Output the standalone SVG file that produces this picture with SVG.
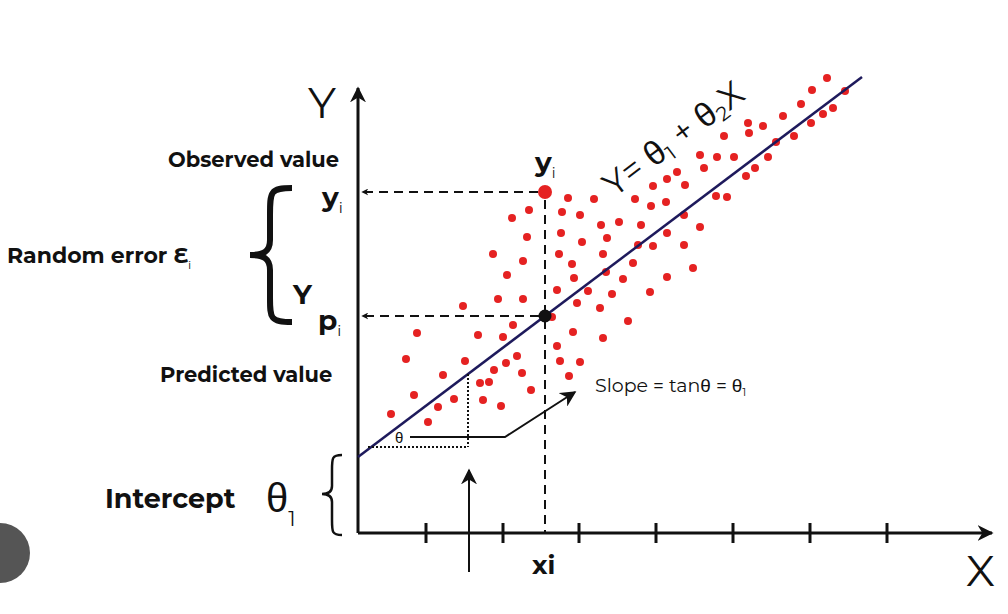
<svg xmlns="http://www.w3.org/2000/svg" width="1008" height="614" viewBox="0 0 1008 614">
<style>
.t{font-family:"Montserrat","Liberation Sans",Arial,sans-serif;fill:#111}
.b{font-weight:bold}
.d{fill:#e52222}
.ax{stroke:#111;stroke-width:3;fill:none}
.dash{stroke:#111;stroke-width:2;stroke-dasharray:9,6;fill:none}
.dot{stroke:#111;stroke-width:2;stroke-dasharray:2,2;fill:none}
tspan{fill:#111}
</style>
<defs>
<marker id="ah" viewBox="0 0 10 10" refX="9" refY="5" markerWidth="7" markerHeight="7" orient="auto-start-reverse" markerUnits="userSpaceOnUse"><path d="M0,0 L10,5 L0,10 L3,5 Z" fill="#111"/></marker>
<marker id="ahb" viewBox="0 0 10 10" refX="9" refY="5" markerWidth="16" markerHeight="16" orient="auto" markerUnits="userSpaceOnUse"><path d="M0,0 L10,5 L0,10 L3,5 Z" fill="#111"/></marker>
</defs>
<rect width="1008" height="614" fill="#fff"/>
<g id="axes">
<line class="ax" x1="358" y1="533" x2="358" y2="88" marker-end="url(#ahb)"/>
<line class="ax" x1="358" y1="533" x2="992" y2="533" marker-end="url(#ahb)"/>
<g stroke="#111" stroke-width="3"><line x1="426" y1="523" x2="426" y2="543"/><line x1="503" y1="523" x2="503" y2="543"/><line x1="579" y1="523" x2="579" y2="543"/><line x1="656" y1="523" x2="656" y2="543"/><line x1="733" y1="523" x2="733" y2="543"/><line x1="810" y1="523" x2="810" y2="543"/><line x1="887" y1="523" x2="887" y2="543"/></g>
<text class="t" x="308" y="118" font-size="44">Y</text>
<text class="t" x="966" y="586" font-size="44">X</text>
<text class="t b" x="532" y="574" font-size="26">xi</text>
</g>
<g id="points">
<circle class="d" cx="568" cy="198" r="4"/><circle class="d" cx="594" cy="199" r="4"/><circle class="d" cx="529" cy="210" r="4"/><circle class="d" cx="512" cy="218" r="4"/><circle class="d" cx="562" cy="212" r="4"/><circle class="d" cx="580" cy="215" r="4"/><circle class="d" cx="527" cy="237" r="4"/><circle class="d" cx="561" cy="233" r="4"/><circle class="d" cx="582" cy="242" r="4"/><circle class="d" cx="601" cy="225" r="4"/><circle class="d" cx="619" cy="222" r="4"/><circle class="d" cx="635" cy="199" r="4"/><circle class="d" cx="653" cy="186" r="4"/><circle class="d" cx="667" cy="179" r="4"/><circle class="d" cx="677" cy="172" r="4"/><circle class="d" cx="685" cy="185" r="4"/><circle class="d" cx="651" cy="206" r="4"/><circle class="d" cx="666" cy="202" r="4"/><circle class="d" cx="684" cy="215" r="4"/><circle class="d" cx="700" cy="227" r="4"/><circle class="d" cx="641" cy="225" r="4"/><circle class="d" cx="607" cy="238" r="4"/><circle class="d" cx="638" cy="245" r="4"/><circle class="d" cx="653" cy="246" r="4"/><circle class="d" cx="667" cy="233" r="4"/><circle class="d" cx="684" cy="245" r="4"/><circle class="d" cx="693" cy="268" r="4"/><circle class="d" cx="667" cy="277" r="4"/><circle class="d" cx="650" cy="292" r="4"/><circle class="d" cx="633" cy="263" r="4"/><circle class="d" cx="623" cy="279" r="4"/><circle class="d" cx="606" cy="272" r="4"/><circle class="d" cx="603" cy="254" r="4"/><circle class="d" cx="572" cy="264" r="4"/><circle class="d" cx="559" cy="254" r="4"/><circle class="d" cx="574" cy="278" r="4"/><circle class="d" cx="557" cy="290" r="4"/><circle class="d" cx="588" cy="291" r="4"/><circle class="d" cx="612" cy="294" r="4"/><circle class="d" cx="577" cy="303" r="4"/><circle class="d" cx="600" cy="308" r="4"/><circle class="d" cx="628" cy="321" r="4"/><circle class="d" cx="603" cy="338" r="4"/><circle class="d" cx="573" cy="332" r="4"/><circle class="d" cx="552" cy="317" r="4"/><circle class="d" cx="557" cy="346" r="4"/><circle class="d" cx="560" cy="361" r="4"/><circle class="d" cx="580" cy="362" r="4"/><circle class="d" cx="569" cy="376" r="4"/><circle class="d" cx="531" cy="390" r="4"/><circle class="d" cx="522" cy="373" r="4"/><circle class="d" cx="517" cy="356" r="4"/><circle class="d" cx="506" cy="363" r="4"/><circle class="d" cx="494" cy="370" r="4"/><circle class="d" cx="489" cy="382" r="4"/><circle class="d" cx="480" cy="383" r="4"/><circle class="d" cx="483" cy="400" r="4"/><circle class="d" cx="501" cy="406" r="4"/><circle class="d" cx="513" cy="325" r="4"/><circle class="d" cx="503" cy="337" r="4"/><circle class="d" cx="523" cy="299" r="4"/><circle class="d" cx="498" cy="299" r="4"/><circle class="d" cx="463" cy="306" r="4"/><circle class="d" cx="478" cy="335" r="4"/><circle class="d" cx="493" cy="254" r="4"/><circle class="d" cx="507" cy="275" r="4"/><circle class="d" cx="523" cy="261" r="4"/><circle class="d" cx="417" cy="333" r="4"/><circle class="d" cx="406" cy="359" r="4"/><circle class="d" cx="465" cy="361" r="4"/><circle class="d" cx="443" cy="375" r="4"/><circle class="d" cx="414" cy="395" r="4"/><circle class="d" cx="454" cy="399" r="4"/><circle class="d" cx="438" cy="407" r="4"/><circle class="d" cx="391" cy="414" r="4"/><circle class="d" cx="428" cy="422" r="4"/><circle class="d" cx="700" cy="155" r="4"/><circle class="d" cx="704" cy="168" r="4"/><circle class="d" cx="717" cy="157" r="4"/><circle class="d" cx="724" cy="136" r="4"/><circle class="d" cx="734" cy="157" r="4"/><circle class="d" cx="748" cy="123" r="4"/><circle class="d" cx="749" cy="133" r="4"/><circle class="d" cx="763" cy="126" r="4"/><circle class="d" cx="783" cy="116" r="4"/><circle class="d" cx="776" cy="142" r="4"/><circle class="d" cx="794" cy="136" r="4"/><circle class="d" cx="801" cy="104" r="4"/><circle class="d" cx="812" cy="90" r="4"/><circle class="d" cx="827" cy="78" r="4"/><circle class="d" cx="845" cy="91" r="4"/><circle class="d" cx="823" cy="114" r="4"/><circle class="d" cx="833" cy="108" r="4"/><circle class="d" cx="811" cy="123" r="4"/><circle class="d" cx="768" cy="157" r="4"/><circle class="d" cx="755" cy="168" r="4"/><circle class="d" cx="746" cy="176" r="4"/><circle class="d" cx="716" cy="196" r="4"/><circle class="d" cx="727" cy="197" r="4"/>
</g>
<g id="regression">
<line x1="358" y1="457" x2="862" y2="77" stroke="#1e1a5c" stroke-width="2.5"/>
<text class="t" font-size="34" transform="translate(614,198) rotate(-37)">Y= θ<tspan font-size="20" dy="5">1</tspan><tspan dy="-5"> + θ</tspan><tspan font-size="20" dy="5">2</tspan><tspan dy="-5">X</tspan></text>
</g>
<g id="observed">
<circle cx="545" cy="192" r="7" fill="#e52222"/>
<text class="t b" x="535" y="172" font-size="28">y<tspan font-size="14" dy="6" font-weight="normal">i</tspan></text>
<circle cx="545" cy="316" r="6.5" fill="#111"/>
</g>
<g id="connectors">
<line class="dash" x1="538" y1="192" x2="362" y2="192" marker-end="url(#ah)"/>
<line class="dash" x1="539" y1="316" x2="362" y2="316" marker-end="url(#ah)"/>
<line class="dash" x1="545" y1="200" x2="545" y2="533"/>
<line class="dot" x1="468" y1="374" x2="468" y2="447"/>
<line class="dot" x1="368" y1="447" x2="468" y2="447"/>
<path d="M410,437 L505,437 L575,392" stroke="#111" stroke-width="2" fill="none" marker-end="url(#ahb)"/>
<line x1="469" y1="572" x2="469" y2="470" stroke="#111" stroke-width="2" marker-end="url(#ahb)"/>
</g>
<g id="labels">
<text class="t" x="395" y="443" font-size="15">θ</text>
<text class="t" x="595" y="392" font-size="19">Slope = tanθ = θ<tspan font-size="11" dy="4">1</tspan></text>
<text class="t b" x="168" y="167" font-size="21">Observed value</text>
<text class="t b" x="322" y="207" font-size="28">y<tspan font-size="15" dy="6" font-weight="normal">i</tspan></text>
<text class="t b" x="7" y="263" font-size="22">Random error Ɛ<tspan font-size="12" dy="6" font-weight="normal">i</tspan></text>
<path d="M292,188 C270,188 270,192 270,215 L270,240 C270,252 263,255 250,255 C263,255 270,258 270,270 L270,298 C270,318 270,322 292,322" stroke="#111" stroke-width="6" fill="none"/>
<text class="t b" x="293" y="304" font-size="28">Y</text>
<text class="t b" x="318" y="330" font-size="28">p<tspan font-size="15" dy="6" font-weight="normal">i</tspan></text>
<text class="t b" x="160" y="382" font-size="21">Predicted value</text>
<text class="t b" x="105" y="508" font-size="27">Intercept</text>
<text class="t" x="266" y="512" font-size="40">θ<tspan font-size="20" dy="14">1</tspan></text>
<path d="M342,455 C332,455 332,458 332,470 L332,486 C332,492 328,494 322,494 C328,494 332,496 332,502 L332,520 C332,532 332,535 342,535" stroke="#111" stroke-width="2.5" fill="none"/>
</g>
<circle cx="0" cy="553" r="30" fill="#555"/>
</svg>
